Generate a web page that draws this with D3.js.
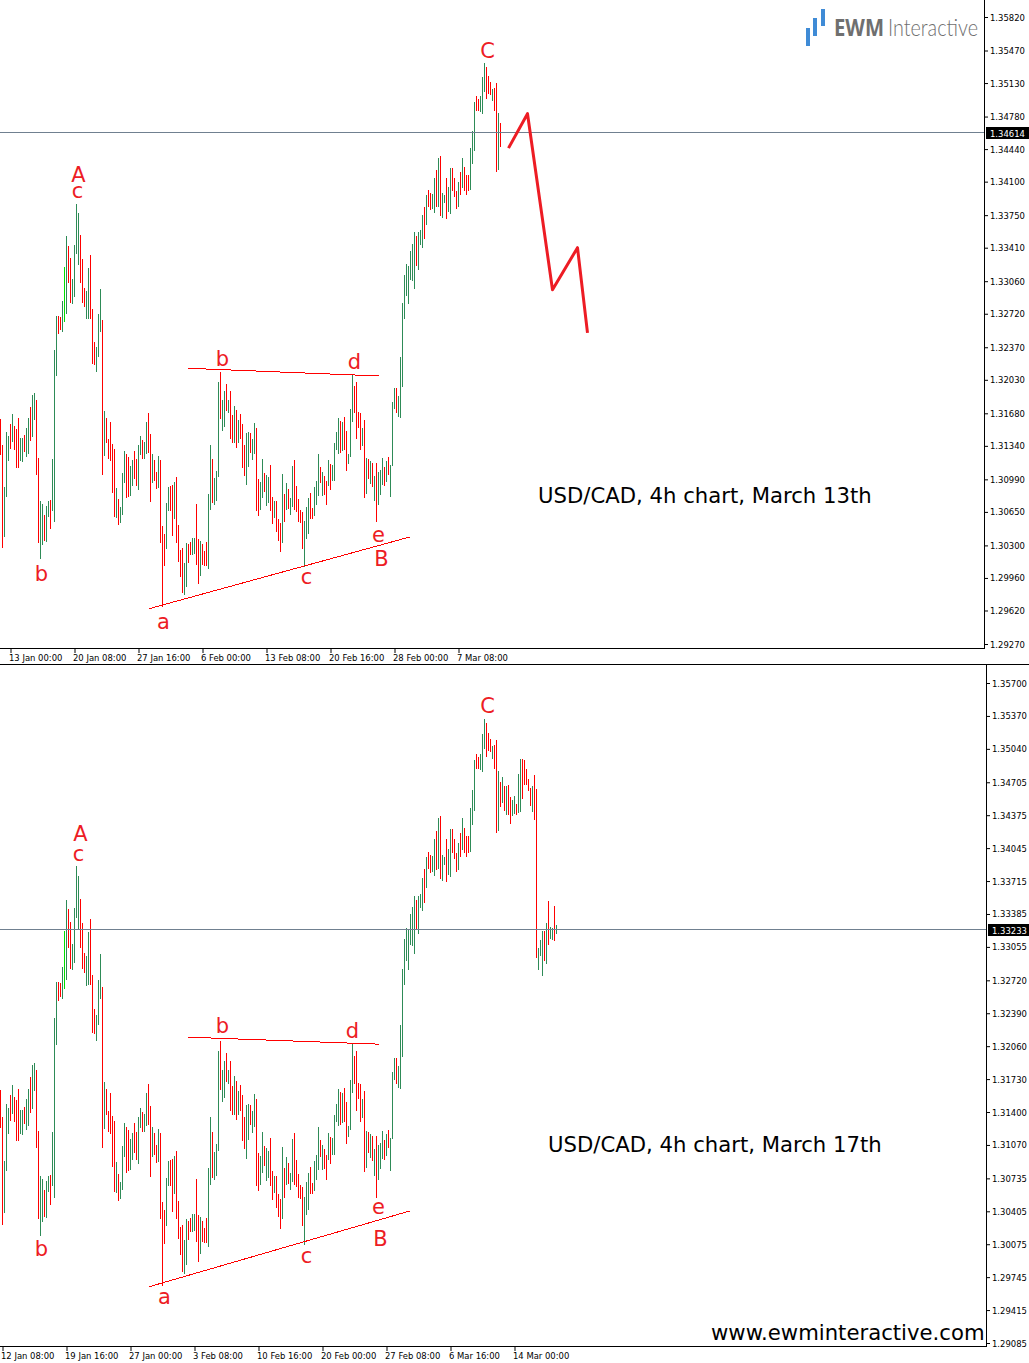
<!DOCTYPE html>
<html>
<head>
<meta charset="utf-8">
<script src="https://cdn.jsdelivr.net/npm/d3@7/dist/d3.min.js"></script>
<style>
  html, body { margin: 0; padding: 0; background: #fff; }
  svg { display: block; }
  .tick-label { font-family: "DejaVu Sans Condensed", "DejaVu Sans", sans-serif; font-size: 9.4px; fill: #000; }
  .wave { font-family: "DejaVu Sans", sans-serif; font-size: 21px; fill: #ed1c24; text-anchor: middle; }
  .note { font-family: "DejaVu Sans", sans-serif; font-size: 21.2px; fill: #000; }
</style>
</head>
<body>
<div id="chart"></div>
<script>
// USD/CAD 4h bars: high and low of each bar in pips (0.0001), oldest first.
const barHighs = [
13162,13135,13091,13148,13144,13157,13167,13155,13152,13163,
13142,13142,13145,13153,13163,13175,13187,13189,13182,13121,
13076,13073,13062,13071,13076,13077,13120,13234,13270,13270,
13269,13285,13321,13353,13343,13330,13308,13344,13387,13377,
13354,13329,13299,13296,13320,13333,13277,13243,13237,13272,
13298,13265,13170,13163,13141,13159,13136,13131,13090,13078,
13070,13106,13129,13125,13122,13113,13119,13129,13120,13135,
13144,13140,13138,13159,13168,13146,13125,13119,13107,13123,
13119,13050,13042,13074,13091,13092,13093,13096,13101,13051,
13025,13027,13012,13033,13031,13034,13038,13038,13073,13037,
13035,13031,13024,13034,13084,13135,13120,13100,13108,13201,
13211,13182,13191,13199,13182,13191,13166,13176,13171,13161,
13167,13157,13135,13147,13148,13147,13141,13158,13153,13099,
13096,13120,13106,13104,13101,13114,13081,13076,13076,13058,
13053,13105,13084,13095,13089,13079,13113,13119,13092,13078,
13067,13065,13055,13070,13079,13085,13069,13091,13097,13125,
13112,13107,13103,13097,13119,13115,13114,13137,13148,13163,
13160,13159,13164,13150,13126,13172,13209,13196,13201,13169,
13168,13153,13161,13121,13120,13118,13116,13103,13116,13107,
13109,13121,13112,13118,13122,13114,13180,13194,13194,13186,
13227,13283,13313,13324,13322,13338,13345,13357,13353,13357,
13359,13375,13384,13396,13401,13398,13397,13414,13422,13435,
13437,13398,13396,13414,13404,13424,13424,13414,13400,13410,
13420,13435,13425,13417,13417,13445,13463,13493,13499,13496,
13499,13519,13534,13530,13520,13514,13507,13508,13513,13482,
13471,13476,13467,13467,13468,13456,13453,13457,13449,13479,
13494,13494,13493,13484,13474,13465,13467,13478,13464,13304,
13312,13321,13321,13329,13352,13325,13324,13346,13327];

const barLows = [
13124,13027,13039,13081,13118,13131,13138,13130,13111,13111,
13118,13117,13128,13122,13126,13139,13143,13161,13104,13033,
13016,13030,13035,13034,13060,13047,13066,13054,13207,13251,
13255,13253,13263,13272,13304,13283,13282,13289,13334,13323,
13304,13283,13279,13266,13267,13267,13219,13218,13211,13227,
13253,13104,13123,13137,13120,13118,13085,13060,13059,13051,
13053,13062,13095,13079,13081,13082,13092,13099,13092,13088,
13124,13120,13120,13126,13127,13075,13095,13097,13089,13090,
13033,12966,13008,13026,13066,13066,13040,13058,13033,13013,
12997,12980,12978,12987,13012,13020,13020,13021,13010,12990,
12998,13010,13009,13009,13005,13067,13074,13072,13076,13101,
13162,13150,13154,13170,13168,13141,13137,13137,13132,13137,
13141,13111,13103,13093,13112,13127,13119,13125,13066,13061,
13067,13079,13086,13071,13074,13066,13052,13059,13044,13035,
13023,13033,13054,13067,13068,13062,13070,13067,13065,13054,
13053,13026,13007,13037,13042,13058,13058,13061,13072,13082,
13095,13082,13083,13072,13092,13088,13097,13097,13130,13126,
13127,13129,13130,13108,13115,13122,13159,13168,13141,13153,
13130,13134,13080,13084,13099,13094,13091,13076,13054,13072,
13083,13093,13092,13096,13104,13081,13113,13172,13168,13164,
13163,13195,13267,13291,13282,13307,13306,13298,13322,13318,
13344,13341,13350,13365,13384,13380,13381,13377,13383,13384,
13374,13372,13388,13371,13378,13376,13400,13394,13381,13383,
13396,13403,13400,13396,13400,13401,13428,13442,13484,13484,
13483,13481,13504,13496,13502,13501,13494,13484,13420,13422,
13446,13450,13442,13438,13438,13429,13437,13439,13438,13440,
13441,13454,13468,13468,13462,13447,13441,13433,13294,13282,
13296,13276,13291,13288,13307,13313,13312,13311,13318];

// One letter per bar: r = falling, g = rising, l = the single highlighted bar.
const barColors = (
"rrgggrgrrr" + "ggrggrggrr" + "ggrggrgggr" + "rglgrrgggg" + "rrrggrrrgg" +
"grgrrrrrgr" + "gggrrggrrg" + "grggrrgrrg" + "rrrggrrgrr" + "rrggrrggrr" +
"grrrggrggg" + "rggrgrrgrg" + "rrrggrggrr" + "ggrggrrgrr" + "rgrgrggrrr" +
"rrgggrrggg" + "rgrrgrgggg" + "rgrrgggrrr" + "rgrgrgrgrg" + "ggrgrgggrg" +
"ggggggggrg" + "ggrgrrggrg" + "rggrggrrrg" + "rgrrrgggrr" + "gggrrrgrrg" +
"rgrgrrggrg" + "grrrrrgrrg" + "ggrgrggrg"
).split("");

const tickDigitsTop = ["1.35820","1.35470","1.35130","1.34780","1.34440","1.34100","1.33750","1.33410","1.33060","1.32720",
                       "1.32370","1.32030","1.31680","1.31340","1.30990","1.30650","1.30300","1.29960","1.29620","1.29270"];
const tickDigitsBottom = ["1.35700","1.35370","1.35040","1.34705","1.34375","1.34045","1.33715","1.33385","1.33055","1.32720",
                          "1.32390","1.32060","1.31730","1.31400","1.31070","1.30735","1.30405","1.30075","1.29745","1.29415","1.29085"];
const dateLabelsTop = ["13 Jan 00:00","20 Jan 08:00","27 Jan 16:00","6 Feb 00:00","13 Feb 08:00","20 Feb 16:00","28 Feb 00:00","7 Mar 08:00"];
const dateLabelsBottom = ["12 Jan 08:00","19 Jan 16:00","27 Jan 00:00","3 Feb 08:00","10 Feb 16:00","20 Feb 00:00","27 Feb 08:00","6 Mar 16:00","14 Mar 00:00"];
const dateBarsTop = [5, 37, 69, 101, 133, 165, 197, 229];
const dateBarsBottom = [1, 33, 65, 97, 129, 161, 193, 225, 257];

// Wave counts: [label, bar index, price in pips at the label's baseline].
const wavesTop = [["A",39,13410],["c",38.5,13393],["b",20.5,12993],["a",81.5,12943],["b",111,13217],["d",177,13214],
                  ["c",153,12990],["e",189,13034],["B",190.5,13008],["C",243.5,13539]];
const wavesBottom = [["A",40,13412],["c",39,13392],["b",20.5,12996],["a",82,12948],["b",111,13219],["d",176,13214],
                     ["c",153,12989],["e",189,13038],["B",190,13006],["C",243.5,13540]];

// Trend lines as bar index and price in pips.
const supportTop = [[74.5,12964],[205,13039]];
const resistanceTop = [[94,13215],[189,13207]];
const supportBottom = [[74.5,12965],[205,13041]];
const resistanceBottom = [[94,13215],[189.5,13208]];

// Expected path drawn after the last bar of the upper chart.
const forecast = [[254,13445],[263.5,13481],[276,13297],[288.5,13341],[293.5,13252]];

const width = 1029, height = 1363;
const svg = d3.select("#chart").append("svg").attr("width", width).attr("height", height);

const barColor = { r: "#ff0000", g: "#2e8b57", l: "#00e000" };
const x = d3.scaleLinear().domain([0, 1]).range([0.5, 2.5]);
const pip = v => v / 10000;

function panel(opts) {
  const g = svg.append("g");
  const y = d3.scaleLinear().domain(opts.priceDomain).range(opts.yRange);
  const bars = d3.range(opts.barCount);

  // Bars are plain high-low strokes.
  g.append("g").selectAll("line").data(bars).join("line")
    .attr("x1", i => x(i)).attr("x2", i => x(i))
    .attr("y1", i => Math.round(y(pip(barHighs[i])))).attr("y2", i => Math.round(y(pip(barLows[i]))))
    .attr("stroke", i => barColor[barColors[i]]).attr("stroke-width", 1);

  // Last price line.
  g.append("line").attr("x1", 0).attr("x2", opts.axisX)
    .attr("y1", Math.round(y(opts.lastPrice)) + 0.5).attr("y2", Math.round(y(opts.lastPrice)) + 0.5)
    .attr("stroke", "#708090");

  // Trend lines.
  const line = d3.line().x(d => x(d[0])).y(d => y(pip(d[1])));
  [opts.support, opts.resistance].forEach(seg => {
    g.append("path").attr("d", line(seg)).attr("fill", "none").attr("stroke", "#ff0000")
      .attr("stroke-width", 1).attr("shape-rendering", "crispEdges");
  });

  // Wave labels.
  g.append("g").selectAll("text").data(opts.waves).join("text").attr("class", "wave")
    .attr("x", d => x(d[1])).attr("y", d => y(pip(d[2]))).text(d => d[0]);

  // Price axis on the right.
  const yAxis = d3.axisRight(y).tickValues(opts.tickDigits.map(Number)).tickSize(4).tickPadding(2).tickFormat(d3.format(".5f"));
  const ya = g.append("g").attr("transform", `translate(${opts.axisX},0)`).call(yAxis);
  ya.select(".domain").attr("stroke", "#000").attr("d", `M0.5,${opts.top}V${opts.bottom}`);
  ya.selectAll("text").attr("class", "tick-label").attr("fill", null);

  // Last price tag.
  const tagY = Math.round(y(opts.lastPrice));
  g.append("rect").attr("x", opts.axisX + 2).attr("y", tagY - 5).attr("width", width - opts.axisX - 2).attr("height", 12).attr("fill", "#000");
  g.append("text").attr("class", "tick-label").attr("x", opts.axisX + 6).attr("y", tagY + 4.5)
    .style("fill", "#fff").text(opts.lastPrice.toFixed(5));

  // Time axis along the bottom.
  const xAxis = d3.axisBottom(x).tickValues(opts.dateBars).tickSize(5).tickFormat((d, i) => opts.dateLabels[i]);
  const xa = g.append("g").attr("transform", `translate(0,${opts.bottom})`).call(xAxis);
  xa.select(".domain").attr("stroke", "#000").attr("d", `M0,0.5H${opts.axisX + 1}`);
  xa.selectAll("text").attr("class", "tick-label").attr("fill", null)
    .attr("text-anchor", "start").attr("dx", -2).attr("y", 6).attr("dy", "0.71em");

  // Chart note.
  g.append("text").attr("class", "note").attr("x", opts.noteX).attr("y", opts.noteY).text(opts.note);
  return { g, y };
}

const upper = panel({
  barCount: 251, priceDomain: [1.35820, 1.29270], yRange: [17, 644],
  axisX: 984, top: 0, bottom: 648, lastPrice: 1.34614,
  tickDigits: tickDigitsTop, dateBars: dateBarsTop, dateLabels: dateLabelsTop,
  waves: wavesTop, support: supportTop, resistance: resistanceTop,
  note: "USD/CAD, 4h chart, March 13th", noteX: 538, noteY: 503
});

// Forecast zig-zag on the upper chart.
upper.g.append("path")
  .attr("d", d3.line().x(d => x(d[0])).y(d => upper.y(pip(d[1])))(forecast))
  .attr("fill", "none").attr("stroke", "#ed1c24").attr("stroke-width", 3).attr("stroke-linejoin", "round");

const lower = panel({
  barCount: 279, priceDomain: [1.35700, 1.29085], yRange: [683, 1343],
  axisX: 986, top: 664, bottom: 1346, lastPrice: 1.33233,
  tickDigits: tickDigitsBottom, dateBars: dateBarsBottom, dateLabels: dateLabelsBottom,
  waves: wavesBottom, support: supportBottom, resistance: resistanceBottom,
  note: "USD/CAD, 4h chart, March 17th", noteX: 548, noteY: 1152
});

// Divider shared by the upper time axis and the lower chart.
svg.append("line").attr("x1", 0).attr("x2", width).attr("y1", 664.5).attr("y2", 664.5).attr("stroke", "#000");

svg.append("text").attr("class", "note").attr("x", 711).attr("y", 1340).text("www.ewminteractive.com");

// Brand mark, top right.
const logoBars = [[806, 28, 18], [813, 18, 18], [821, 9, 17]];
svg.append("g").selectAll("rect").data(logoBars).join("rect")
  .attr("x", d => d[0]).attr("y", d => d[1]).attr("width", 4).attr("height", d => d[2]).attr("fill", "#3f8bd6");
svg.append("text").attr("x", 834).attr("y", 36).attr("textLength", 50).attr("lengthAdjust", "spacingAndGlyphs")
  .style("font", "700 23px 'Open Sans', sans-serif").style("fill", "#6f6f6f").text("EWM");
svg.append("text").attr("x", 888).attr("y", 36).attr("textLength", 90).attr("lengthAdjust", "spacingAndGlyphs")
  .style("font", "300 23px Lato, sans-serif").style("fill", "#6f6f6f").text("Interactive");
</script>
</body>
</html>
